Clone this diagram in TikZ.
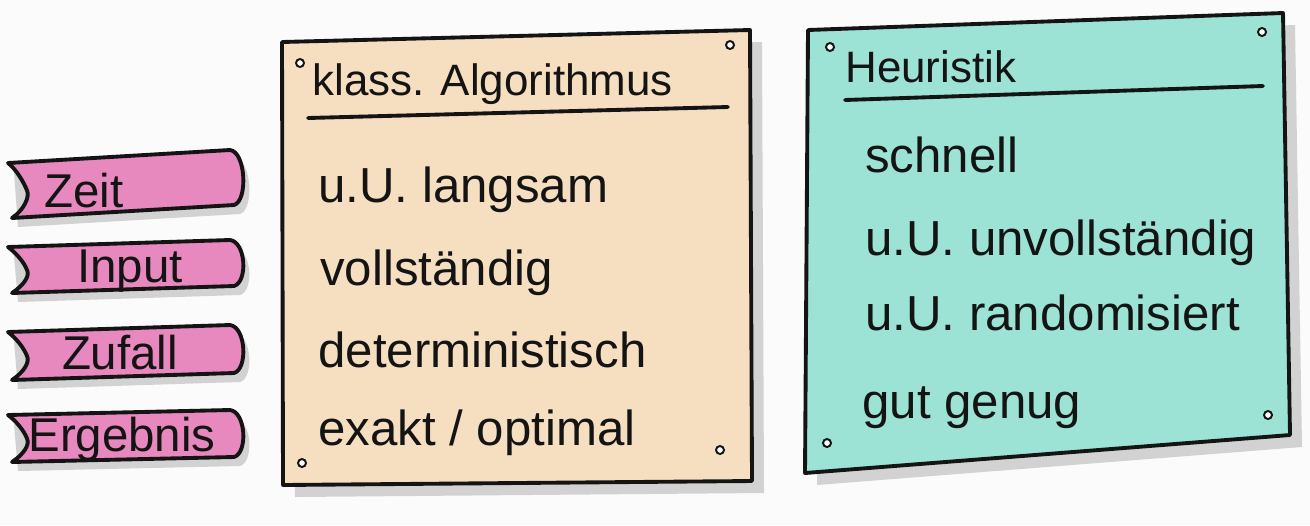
\documentclass[tikz,border=0pt]{standalone}
\usepackage{fontspec}
\setmainfont{Liberation Sans}
\usepackage{xcolor}
\usepackage{tikz}
\usetikzlibrary{calc}
\definecolor{paper}{HTML}{FBFBFB}
\definecolor{ink}{HTML}{141414}
\definecolor{peach}{HTML}{F6DEC0}
\definecolor{mint}{HTML}{9CE2D5}
\definecolor{rose}{HTML}{E788BF}
\definecolor{shade}{HTML}{D2D2D2}
\tikzset{
  edge/.style={draw=ink, line width=2.2pt, line cap=round, line join=round},
  shadowfill/.style={fill=shade},
  pin/.style={draw=ink, line width=1.1pt, fill=white},
  head/.style={anchor=base west, text=ink, inner sep=0pt, font=\fontsize{25}{30}\selectfont},
  item/.style={anchor=base west, text=ink, inner sep=0pt, font=\fontsize{28}{32}\selectfont},
  tagtext/.style={anchor=base, text=ink, inner sep=0pt, font=\fontsize{27}{30}\selectfont},
}

\begin{document}
\begin{tikzpicture}[x=0.02cm, y=-0.02cm]
  \useasboundingbox (0,0) rectangle (1310,525);
  \fill[paper] (0,0) rectangle (1310,525);

  % tags on the left
  \foreach \n/\w/\t/\b/\d/\x in {zeit/Zeit/163/218/13/84, input/Input/247/293/7/130,
      zufall/Zufall/332/380/7/120, ergebnis/Ergebnis/415/462/5/122}{
    \pgfmathsetmacro\m{(\t+\b)/2}
    \fill[shadowfill] (14,\t+9) -- (236,\t-\d+9) .. controls (252,\t-\d+11) and (254,\b-\d+5) .. (240,\b-\d+9)
      -- (18,\b+9) -- cycle;
    \draw[edge, fill=rose] (8,\t) -- (230,\t-\d) .. controls (246,\t-\d+2) and (248,\b-\d-4) .. (234,\b-\d)
      -- (12,\b) .. controls (24,\b-8) and (30,\m+6) .. (27,\m) .. controls (24,\m-8) and (16,\t+6) .. cycle;
    \node[tagtext] (\n) at (\x,\b-11) {\w};
  }

  % classic algorithm
  \coordinate (A1) at (282,42);
  \coordinate (A2) at (750,30);
  \coordinate (A3) at (752,481);
  \coordinate (A4) at (283,485);
  \fill[shadowfill] ($(A1)+(12,12)$) -- ($(A2)+(12,12)$) -- ($(A3)+(12,12)$) -- ($(A4)+(12,12)$) -- cycle;
  \draw[edge, fill=peach] (A1) -- (A2) -- (A3) -- (A4) -- cycle;
  \node[head] (klass) at (312,95) {klass. Algorithmus};
  \draw[edge] (308,118) -- (728,107);
  \node[item] (langsam) at (318,202) {u.U. langsam};
  \node[item] (vollst) at (320,285) {vollständig};
  \node[item] (determ) at (318,367) {deterministisch};
  \node[item] (exakt) at (318,445) {exakt / optimal};
  \foreach \p in {(300,63), (730,45), (302,463), (720,450)}
    \draw[pin] \p circle (4);

  % heuristic
  \coordinate (B1) at (808,30);
  \coordinate (B2) at (1283,13);
  \coordinate (B3) at (1290,435);
  \coordinate (B4) at (805,473);
  \fill[shadowfill] ($(B1)+(12,12)$) -- ($(B2)+(12,12)$) -- ($(B3)+(12,12)$) -- ($(B4)+(12,12)$) -- cycle;
  \draw[edge, fill=mint] (B1) -- (B2) -- (B3) -- (B4) -- cycle;
  \node[head] (heur) at (845,82) {Heuristik};
  \draw[edge] (845,100) -- (1263,86);
  \node[item] (schnell) at (865,172) {schnell};
  \node[item] (unvoll) at (865,255) {u.U. unvollständig};
  \node[item] (random) at (865,330) {u.U. randomisiert};
  \node[item] (gut) at (862,418) {gut genug};
  \foreach \p in {(830,47), (1262,32), (827,443), (1268,415)}
    \draw[pin] \p circle (4);
\end{tikzpicture}
\end{document}
